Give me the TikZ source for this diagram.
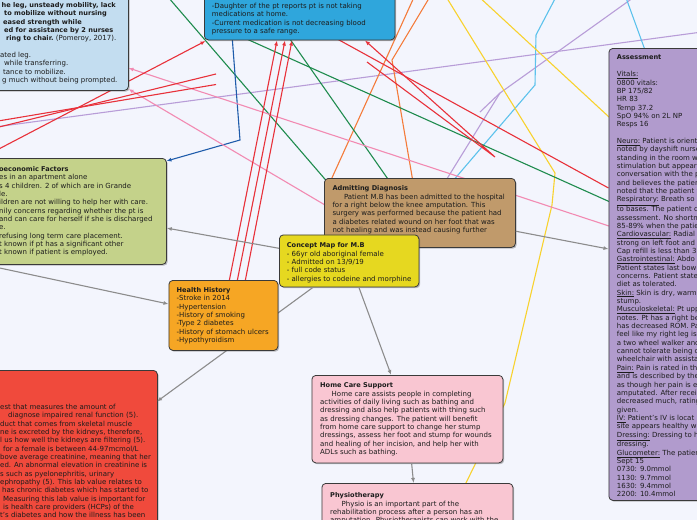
\documentclass[tikz,border=0pt]{standalone}
\usepackage{fontspec}
\setmainfont{DejaVu Sans}
\usetikzlibrary{arrows.meta}
\definecolor{bgc}{HTML}{F3F5FD}
\definecolor{boxline}{HTML}{3A3A3A}
\definecolor{txtc}{HTML}{1C1C1C}
\definecolor{cTL}{HTML}{C3DDF0}
\definecolor{cMed}{HTML}{2FA6DC}
\definecolor{cSoc}{HTML}{C4D28A}
\definecolor{cAdm}{HTML}{C09A6B}
\definecolor{cCon}{HTML}{E6D820}
\definecolor{cHH}{HTML}{F6A624}
\definecolor{cLab}{HTML}{F04A3C}
\definecolor{cPink}{HTML}{F9C6D2}
\definecolor{cAss}{HTML}{B19BCD}
\definecolor{lRed}{HTML}{E8313A}
\definecolor{lPink}{HTML}{F28AB2}
\definecolor{lGreen}{HTML}{1E8B4D}
\definecolor{lDBlue}{HTML}{1F5CAB}
\definecolor{lOrange}{HTML}{F47B3A}
\definecolor{lYellow}{HTML}{F8D22E}
\definecolor{lLBlue}{HTML}{5CC2EC}
\definecolor{lPurple}{HTML}{B89DD8}
\definecolor{lGray}{HTML}{8C8C8C}
\newcommand\mapfont{\fontsize{7pt}{8.35pt}\selectfont}
\newcommand\hd[1]{{\fontsize{6.6pt}{8.35pt}\selectfont\bfseries #1}}
\newcommand\uln[1]{\underline{#1}}
\begin{document}
\begin{tikzpicture}[x=1pt,y=-1pt,
  box/.style={draw=boxline, line width=0.8pt, rounded corners=4pt, anchor=north west, inner sep=0pt,
    preaction={fill=black!70, fill opacity=0.35, transform canvas={shift={(1.3pt,-1.3pt)}}}},
  txt/.style={anchor=north west, inner sep=0pt, align=left, font=\mapfont, text=txtc},
  conn/.style={line width=1.1pt},
  arr/.style={-{Latex[length=5pt,width=4pt]}}]
\useasboundingbox (0,0) rectangle (697,520);
\clip (0,0) rectangle (697,520);
\fill[bgc] (0,0) rectangle (697,520);

% ---------- coordinates for connector ends ----------
\coordinate (r1s) at (-5,151); \coordinate (r1e) at (205.5,41);
\coordinate (r2s) at (-5,128); \coordinate (r2e) at (216,74);
\coordinate (r3s) at (-5,121.5); \coordinate (r3e) at (216,84.5);
\coordinate (rAs) at (367,62); \coordinate (rV) at (495,157); \coordinate (rAe) at (365,40.5);
\coordinate (r4s) at (330,35); \coordinate (r4e) at (608.5,188);
\coordinate (h1s) at (229,282); \coordinate (h1e) at (277,40.5);
\coordinate (h2s) at (237,282); \coordinate (h2e) at (285,40.5);
\coordinate (h3s) at (245,282); \coordinate (h3e) at (292,40.5);
\coordinate (p1s) at (609,226); \coordinate (p1e) at (128.5,68);
\coordinate (p2s) at (325,205); \coordinate (p2e) at (128.5,89);
\coordinate (o1s) at (415,-5); \coordinate (o1e) at (331,180);
\coordinate (o2s) at (431,-5); \coordinate (o2m) at (392,60); \coordinate (o2e) at (413,182);
\coordinate (y1s) at (445,-5); \coordinate (y1a) at (555,173); \coordinate (y1b) at (552,205);
\coordinate (y1c) at (505,403); \coordinate (y1e) at (465,485);
\coordinate (y2s) at (477,-5); \coordinate (y2e) at (609,117);
\coordinate (b1s) at (557,-5); \coordinate (b1a) at (536,35); \coordinate (b1b) at (535,85); \coordinate (b1e) at (452,182);
\coordinate (b2s) at (625,-5); \coordinate (b2e) at (645,50);
\coordinate (u1s) at (-5,127); \coordinate (u1e) at (702,32);
\coordinate (u2s) at (637,-5); \coordinate (u2a) at (500,93); \coordinate (u2e) at (445,182); \coordinate (u2t) at (480,112);
\coordinate (g1s) at (168,-3); \coordinate (g1e) at (330,185);
\coordinate (g2s) at (240,36); \coordinate (g2e) at (609,201.5);
\coordinate (g3s) at (285,32); \coordinate (g3e) at (390,182);
\coordinate (d1s) at (232,35); \coordinate (d1a) at (240,140); \coordinate (d1e) at (166.5,161);
\coordinate (gdE) at (157,401.5); \coordinate (geE) at (608.5,249);
\coordinate (gfS) at (-5,267); \coordinate (gfE) at (168.5,304);

% ---------- connectors ----------
\draw[conn, lPurple] (u1s) -- (u1e);
\draw[conn, lPurple] (u2s) -- (u2a) -- (u2e);
\draw[conn, lPurple] (u2a) -- (u2t);
\draw[conn, lLBlue] (b1s) -- (b1a) -- (b1b) -- (b1e);
\draw[conn, lLBlue] (b2s) -- (b2e);
\draw[conn, lYellow] (y1s) -- (y1a) -- (y1b) -- (y1c) -- (y1e);
\draw[conn, lYellow] (y2s) -- (y2e);
\draw[conn, lOrange] (o1s) -- (o1e);
\draw[conn, lOrange] (o2s) -- (o2m) -- (o2e);
\draw[conn, lGreen] (g1s) -- (g1e);
\draw[conn, lGreen] (g2s) -- (g2e);
\draw[conn, lGreen] (g3s) -- (g3e);
\draw[conn, lDBlue, arr] (d1s) -- (d1a) -- (d1e);
\draw[conn, lPink, arr] (p1s) -- (p1e);
\draw[conn, lPink, arr] (p2s) -- (p2e);
\draw[conn, lRed, arr] (r1s) -- (r1e);
\draw[conn, lRed] (r2s) -- (r2e);
\draw[conn, lRed] (r3s) -- (r3e);
\draw[conn, lRed, arr] (rAs) -- (rV) -- (rAe);
\draw[conn, lRed] (r4s) -- (r4e);
\draw[conn, lRed, arr] (h1s) -- (h1e);
\draw[conn, lRed, arr] (h2s) -- (h2e);
\draw[conn, lRed, arr] (h3s) -- (h3e);
\draw[conn, lGray, arr] (gfS) -- (gfE);

% ---------- boxes ----------
\node[box, fill=cTL, minimum width=148pt, minimum height=100pt] (tl) at (-20,-10) {};
\node[txt] (tlT) at (0,1.5) {\strut\hspace*{1.5pt}\hd{he leg, unsteady mobility, lack}\\
\hspace*{4pt}\hd{to mobilize without nursing}\\
\hspace*{3pt}\hd{eased strength while}\\
\hspace*{4pt}\hd{ed for assistance by 2 nurses}\\
\hspace*{6pt}\hd{ring to chair.}\ (Pomeroy, 2017).\\
\mbox{}\\
ated leg.\\
\hspace*{4pt}while transferring.\\
\hspace*{3pt}tance to mobilize.\\
\hspace*{2pt}g much without being prompted.};

\node[box, fill=cMed, minimum width=190.5pt, minimum height=49.5pt] (med) at (204,-10) {};
\node[txt] (medT) at (211.7,2.5) {\strut-Daughter of the pt reports pt is not taking\\
medications at home.\\
-Current medication is not decreasing blood\\
pressure to a safe range.};

\node[box, fill=cSoc, minimum width=186pt, minimum height=106pt] (soc) at (-20,158) {};
\node[txt] (socT) at (-1,165.3) {\strut\hd{oeconomic Factors}\\
es in an apartment alone\\
s 4 children. 2 of which are in Grande\\
le.\\
ildren are not willing to help her with care.\\
nily concerns regarding whether the pt is\\
and can care for herself if she is discharged\\
e.\\
refusing long term care placement.\\
t known if pt has a significant other\\
t known if patient is employed.};

\node[box, fill=cAdm, minimum width=191pt, minimum height=69pt] (adm) at (324,178) {};
\node[txt] (admT) at (332.3,184.9) {\strut\hd{Admitting Diagnosis}\\
\hspace*{11.5pt}Patient M.B has been admitted to the hospital\\
for a right below the knee amputation. This\\
surgery was performed because the patient had\\
a diabetes related wound on her foot that was\\
not healing and was instead causing further};

\draw[conn, lGray, arr] (adm) -- (geE);

\node[box, fill=cCon, minimum width=139.5pt, minimum height=52pt] (cm) at (279,234.5) {};
\node[txt] (cmT) at (286.7,241.6) {\strut\hd{Concept Map for M.B}\\
- 66yr old aboriginal female\\
- Admitted on 13/9/19\\
- full code status\\
- allergies to codeine and morphine};

\node[box, fill=cLab, minimum width=177pt, minimum height=180pt] (lab) at (-20,370) {};
\node[txt] (labT) at (0,403.3) {\strut est that measures the amount of\\
\hspace*{8pt}diagnose impaired renal function (5).\\
duct that comes from skeletal muscle\\
ne is excreted by the kidneys, therefore,\\
l us how well the kidneys are filtering (5).\\
\hspace*{3pt}for a female is between 44-97mcmol/L\\
bove average creatinine, meaning that her\\
ed. An abnormal elevation in creatinine is\\
s such as pyelonephritis, urinary\\
ephropathy (5). This lab value relates to\\
\hspace*{2pt}has chronic diabetes which has started to\\
\hspace*{3pt}Measuring this lab value is important for\\
\hspace*{3pt}is health care providers (HCPs) of the\\
t's diabetes and how the illness has been};

\node[box, fill=cPink, minimum width=191pt, minimum height=87.5pt] (hc) at (311.5,375) {};
\node[txt] (hcT) at (320,381.6) {\strut\hd{Home Care Support}\\
\hspace*{11.5pt}Home care assists people in completing\\
activities of daily living such as bathing and\\
dressing and also help patients with thing such\\
as dressing changes. The patient will benefit\\
from home care support to change her stump\\
dressings, assess her foot and stump for wounds\\
and healing of her incision, and help her with\\
ADLs such as bathing.};

\node[box, fill=cPink, minimum width=191pt, minimum height=80pt] (ph) at (321.5,483) {};
\node[txt] (phT) at (330,491.6) {\strut\hd{Physiotherapy}\\
\hspace*{11.5pt}Physio is an important part of the\\
rehabilitation process after a person has an\\
amputation. Physiotherapists can work with the};

\draw[conn, lGray, arr] (cm) -- (hc);
\draw[conn, lGray, arr] (hc) -- (ph);
\draw[conn, lGray, arr] (cm) -- (soc);
\draw[conn, lGray, arr] (cm) -- (gdE);

\node[box, fill=cHH, minimum width=109pt, minimum height=70pt] (hh) at (168.5,280) {};
\node[txt] (hhT) at (176.5,286.3) {\strut\hd{Health History}\\
-Stroke in 2014\\
-Hypertension\\
-History of smoking\\
-Type 2 diabetes\\
-History of stomach ulcers\\
-Hypothyroidism};

\node[box, fill=cAss, minimum width=120pt, minimum height=452pt] (ass) at (608.5,48) {};
\node[txt] (assT) at (616.7,53.9) {\strut\hd{Assessment}\\
\mbox{}\\
\uln{Vitals:}\\
0800 vitals:\\
BP 175/82\\
HR 83\\
Temp 37.2\\
SpO 94\% on 2L NP\\
Resps 16\\
\mbox{}\\
\uln{Neuro:} Patient is orient\\
noted by dayshift nurse\\
standing in the room w\\
stimulation but appear\\
conversation with the p\\
and believes the patien\\
noted that the patient w\\
\uln{Respiratory:} Breath so\\
to bases. The patient d\\
assessment. No shortn\\
85-89\% when the patie\\
\uln{Cardiovascular:} Radial\\
strong on left foot and\\
Cap refill is less than 3\\
\uln{Gastrointestinal:} Abdo\\
Patient states last bow\\
concerns. Patient state\\
diet as tolerated.\\
\uln{Skin:} Skin is dry, warm\\
stump.\\
\uln{Musculoskeletal:} Pt upp\\
notes. Pt has a right be\\
has decreased ROM. Pa\\
feel like my right leg is\\
a two wheel walker and\\
cannot tolerate being c\\
wheelchair with assista\\
\uln{Pain:} Pain is rated in th\\
and is described by the\\
as though her pain is e\\
amputated. After recei\\
decreased much, rating\\
given.\\
\uln{IV:} Patient's IV is locat\\
site appears healthy wi\\
\uln{Dressing:} Dressing to h\\
dressing.\\
\uln{Glucometer:} The patien\\
Sept 15\\
0730: 9.0mmol\\
1130: 9.7mmol\\
1630: 9.4mmol\\
2200: 10.4mmol};
\end{tikzpicture}
\end{document}
